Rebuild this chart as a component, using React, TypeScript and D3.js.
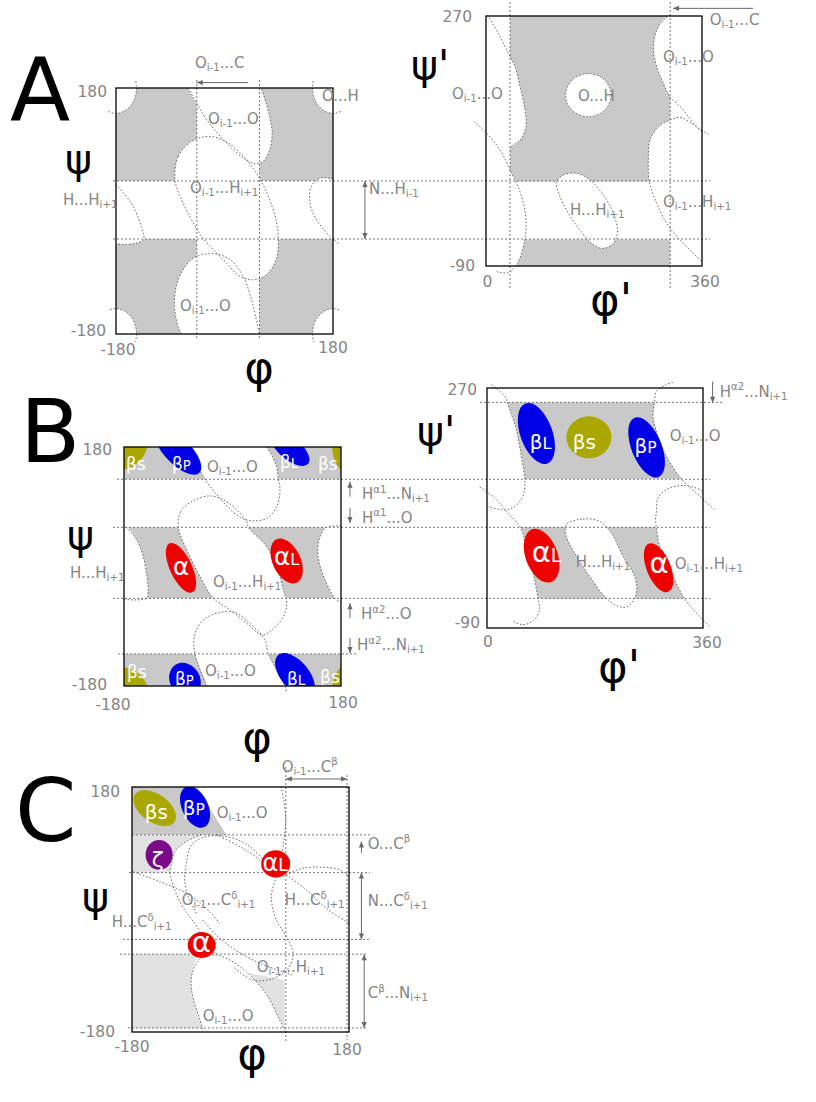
import React from 'react';
import * as d3 from 'd3';

type Pt = number[];
// vertex flag: 1 = sharp corner, 2 = helper vertex outside the frame (filled, not stroked)

// ---------------- panel A, left (phi, psi) ----------------
const a1Bands = [[-180, -46, 44, 180], [58, 180, 44, 180], [-180, -46, -180, -41], [58, 180, -180, -41]];
const a1Ovals = [[-180, 180, 34, 37], [180, 180, 34, 37], [-180, -180, 34, 37], [180, -180, 34, 37]];
const a1Blobs: Pt[][] = [
  // Oi-1...Hi+1
  [[-82.2, 45.8], [-76.6, 80], [-54.5, 101.9], [-24.1, 109.2], [6.3, 99.5], [34, 77.5], [56.1, 50.7], [72.7, 21.4], [85.4, -12.7], [89.3, -42], [86.5, -68.8], [72.7, -90.8], [50.6, -100.5], [25.7, -95.7], [3.6, -76.2], [-18.6, -56.6], [-37.9, -37.1], [-54.5, -12.7], [-71.1, 16.5]],
  // upper Oi-1...O
  [[-64, 200, 2], [-60, 180], [-29.6, 133.6], [3.6, 99.5], [31.2, 77.5], [50.6, 69.2], [64, 72.5], [75, 89.6], [79, 114], [76, 133.6], [69, 158], [61, 180], [60, 200, 2]],
  // lower Oi-1...O
  [[-72, -200, 2], [-72, -180], [-77, -169], [-83, -140], [-80, -110], [-68, -85], [-50, -68], [-18.6, -62.5], [9, -71], [31, -96], [45, -130], [54, -164], [58, -180], [58, -200, 2]],
  // H...Hi+1
  [[-200, 38, 2], [-180, 38.5], [-154.6, 11.4], [-138, -22.8], [-134, -41.3], [-143.5, -46.2], [-163, -49.1], [-180, -48], [-200, -48, 2]],
  // N...Hi-1
  [[200, 48, 2], [180, 47], [158, 48], [144, 36], [141.3, 16.4], [146.8, -3.2], [160.6, -22.8], [180, -41.3], [190, -48], [200, -48, 2]],
];

// ---------------- panel A, right (phi', psi') ----------------
const a2Bands = [[40, 307, 31.5, 270], [40, 307, -90, -51.6]];
const a2Ovals = [[170.5, 156, 37.8, 31]];
const a2Blobs: Pt[][] = [
  [[-20, 290, 2], [2.3, 271.4], [20.6, 245], [40, 211.4], [48.4, 197], [56.7, 168.2], [65, 134.6], [66.7, 110.6], [56.7, 91.4], [40, 81.8], [-20, 80, 2]],
  [[380, 290, 2], [306.7, 272], [287.3, 254.6], [279, 225.8], [284.5, 197], [295.6, 173], [306.7, 153.8], [329, 134.6], [351.2, 110.6], [373.4, 98.6], [380, 95, 2]],
  [[306.7, 120.2], [287.3, 110.6], [273.4, 91.4], [270.6, 62.6], [272.3, 31.4], [284.5, 0.2], [301.2, -28.6], [323.4, -52.6], [345.6, -71.8], [359.5, -83.8], [380, -100, 2], [380, 105, 2], [359.5, 103.4], [342.8, 115.4], [323.4, 124]],
  [[-20, 117.8], [1.2, 101], [23.4, 77], [42.8, 43.4], [59.5, 9.8], [66.7, -23.8], [63.4, -57.4], [52.3, -86.2], [37.3, -99.6], [17.8, -98.2], [-20, -98, 2], [-30, 110, 2]],
  // H...Hi+1
  [[117.8, 31.4], [128.9, 41], [151.2, 43.4], [173.4, 33.8], [195.6, 12.2], [212.3, -14.2], [219, -43], [209.5, -59.8], [192.8, -64.6], [176.2, -57.4], [156.7, -38.2], [137.3, -14.2], [123.4, 9.8]],
];

// ---------------- panel B, left ----------------
const b1Bands = [[-180, 180, 131.4, 180], [-180, 180, -48, 59], [-180, 180, -180, -131.7]];
const b1Blobs: Pt[][] = [
  [[-75, 200, 2], [-73.3, 180], [-45.6, 131.4], [-20.7, 102.7], [6.9, 77.7], [29.1, 69.1], [56.7, 72.6], [73.3, 90.2], [78.8, 115.3], [76, 131.4], [73, 150.4], [65, 168], [56.7, 180], [55, 200, 2]],
  [[-89.8, 59.1], [-86, 82.7], [-64.9, 99.2], [-37.3, 106.3], [-6.9, 96.2], [23.5, 67.6], [26.3, 59.1], [56.7, 29.9], [73.3, -0.2], [84.4, -35.3], [89.9, -55.4], [84.4, -75.5], [62.2, -98.1], [48.4, -103.1], [23.5, -85.5], [-4, -65.4], [-31.8, -47.9], [-53.9, -15.2], [-73.3, 19.9]],
  [[-42, -200, 2], [-42.8, -180], [-62.2, -131.7], [-63.3, -105.6], [-51.1, -83], [-26.2, -70.4], [4.2, -69.4], [34.6, -90.5], [54, -110.6], [59.5, -131.7], [73.3, -155.8], [87.1, -180], [90, -190], [92, -200, 2]],
  [[-200, 62, 2], [-175.6, 59], [-159, 40], [-148, 15], [-142, -15], [-140, -35], [-142, -48], [-148, -49.4], [-164.5, -50.4], [-180, -49], [-200, -49, 2]],
  [[200, 62, 2], [180, 61], [156, 59], [145, 44.5], [142, 15], [153.5, -20], [170, -48], [180, -54], [200, -56, 2]],
];
const b1Spots = [
  { k: 'βs', c: [-190, 190], r: [50, 45], rot: 0 },
  { k: 'βs', c: [185, 185], r: [20, 40], rot: 0 },
  { k: 'βs', c: [-190, -190], r: [50, 39], rot: 0 },
  { k: 'βs', c: [185, -190], r: [20, 39], rot: 0 },
  { k: 'βP', c: [-90, 173], r: [21.6, 45], rot: -45 },
  { k: 'βL', c: [95, 178], r: [18.2, 36.1], rot: -50 },
  { k: 'α', c: [-85.5, -2], r: [18.2, 40.7], rot: -25 },
  { k: 'αL', c: [89.8, 8.3], r: [23.2, 36.1], rot: -25 },
  { k: 'βP', c: [-78.8, -171], r: [24.9, 27.1], rot: -30 },
  { k: 'βL', c: [103.6, -163.4], r: [23.2, 39.2], rot: -40 },
];
const b1SpotText = [['βs', -176.7, 145.4], ['βP', -100.4, 145.4], ['βL', 78.8, 148.4], ['βs', 141.8, 145.4], ['α', -98.7, -12.8], ['αL', 68.8, 2.3], ['βs', -175, -168], ['βP', -95.4, -178.5], ['βL', 90.4, -178.5], ['βs', 145.2, -175.5]];

// ---------------- panel B, right ----------------
const b2Bands = [[0, 360, 133.5, 248.5], [0, 360, -46, 61.5]];
const b2Blobs: Pt[][] = [
  [[-30, 290, 2], [7.2, 275], [29.4, 257.5], [37.8, 237.5], [48.9, 207.5], [57.2, 167.5], [62.8, 133.5], [61.7, 112.5], [51.7, 96.5], [35, 87.5], [16.7, 88.5], [1.7, 92.5], [-30, 95, 2]],
  [[400, 290, 2], [310, 278.5], [298.9, 275], [282.2, 265], [279.5, 248.5], [276.7, 227.5], [285, 197.5], [299, 167.5], [324, 133.5], [348.9, 112.5], [379.5, 87.5], [400, 80, 2]],
  [[-30, 125, 2], [-12.2, 121.5], [12.8, 105], [35, 82.5], [54.4, 62.5], [62, 45], [68.3, 22.5], [79.4, -17.5], [85, -46], [87.8, -62.5], [77.8, -78.5], [60, -85], [40.6, -78.5], [-30, -78, 2]],
  [[282.2, 82.5], [285, 105], [298.9, 117.5], [321.1, 123.5], [343.4, 121.5], [360, 115], [400, 110, 2], [400, -100, 2], [371.1, -87.5], [351.7, -70], [329.5, -46], [304.5, -2.5], [287.8, 32.5], [282, 61.5], [281, 75]],
  [[132.2, 65], [160, 73.5], [187.8, 70], [207.2, 52.5], [226.7, 17.5], [246, -12.5], [248.9, -37.5], [235, -57.5], [218.3, -57.5], [196, -42.5], [171, -12.5], [146, 22.5], [132.2, 47.5]],
];
const b2Spots = [
  { k: 'βL', c: [82.3, 201.8], r: [26.7, 48], rot: -20 },
  { k: 'βs', c: [169.8, 196], r: [37.5, 31.5], rot: 0 },
  { k: 'βP', c: [266, 181], r: [25, 48], rot: -22 },
  { k: 'αL', c: [91, 18.5], r: [26.7, 42], rot: -20 },
  { k: 'α', c: [286, 0.5], r: [20, 39], rot: -22 },
];
const b2SpotText = [['βL', 71.2, 179], ['βs', 142.8, 179], ['βP', 246, 173], ['αL', 74.5, 9.5], ['α', 271, -7]];

// ---------------- panel C ----------------
const cFills = [
  { k: 'dark', pts: [[-180, 180, 1], [-73.2, 180, 1], [-23.4, 109.7, 1], [-180, 109.7, 1]] },
  { k: 'light', pts: [[-180, 109.7, 1], [-65, 109.7, 1], [-89.8, 100], [-109, 85.2], [-114.7, 68], [-117.5, 54.2, 1], [-180, 54.2, 1]] },
  { k: 'light', pts: [[-180, -65.5, 1], [-60, -65.5, 1], [-72, -72], [-79, -88], [-81.5, -108.8], [-77.6, -133.3], [-68.8, -157.8], [-62.2, -175, 1], [-180, -175, 1]] },
  { k: 'light', pts: [[-59.4, -54.8, 1], [-34.5, -65.5, 1], [-67.7, -65.5, 1]] },
  { k: 'light', pts: [[12.5, -93, 1], [73.3, -103.8, 1], [73.3, -175, 1], [65, -162.8], [45.7, -128.4], [26.3, -106.3]] },
];
const cLines: Pt[][] = [
  [[-65, 109.7], [-89.8, 100], [-109, 85.2], [-114.7, 68], [-117.5, 54.2]],
  [[-183.8, 57.2], [-134, 41], [-84.3, 21.4], [-51.1, -3.2], [-34.5, -20.4]],
  [[-117.5, 54.2], [-109.2, 28.7], [-92.6, -0.7], [-76, -20.4], [-62.2, -40]],
  [[-62.2, -15.5], [-40, -37.6], [-12.4, -57.2], [20.8, -74.4], [54, -86.7], [87.2, -96.5]],
  [[-40, 109.7], [-1.3, 92.5], [31.9, 72.9], [54, 53.3]],
  [[76.1, 50.8], [109.3, 28.7], [142.5, 1.7], [180, -20.4]],
  [[70.6, 48.4], [101, 60.2], [136.9, 62.1], [164.6, 58.2], [180, 48.4]],
  [[63.9, 190.75], [71.7, 161.3], [75, 131.8], [72.8, 107.3], [69.5, 85.2]],
  [[59.5, 48.4], [51.2, 18.9], [59.5, -15.5], [76.1, -40], [87.2, -64.6], [78.9, -86.7], [54, -101.4], [20.8, -103.8], [-12.4, -84.2]],
  [[-73.2, -5.6], [-87, 19], [-92.6, 43.5], [-89.8, 68], [-81.5, 95], [-56.6, 107.3], [-17.9, 106.3], [15.3, 92.6], [42.9, 68]],
  [[-62.2, -176.5], [-68.8, -157.8], [-77.6, -133.3], [-82, -108.8], [-77.6, -86.7], [-62.2, -69.5], [-40, -67], [-12.4, -76.8], [9.7, -91.6], [26.3, -106.3], [45.7, -128.4], [63.9, -160.3], [73.3, -177.5]],
];
const cSpots = [
  { k: 'βs', c: [-142.3, 149], r: [40, 20.6], rot: 35 },
  { k: 'βP', c: [-75.4, 150.5], r: [21.6, 32.4], rot: -25 },
  { k: 'ζ', c: [-135, 80.3], r: [22.4, 22], rot: 0 },
  { k: 'αL', c: [58.4, 67], r: [24, 19.9], rot: 0 },
  { k: 'α', c: [-64.4, -52.3], r: [23.2, 19.1], rot: 0 },
];
const cSpotText = [['βs', -158.9, 133.3], ['βP', -95.9, 139.2], ['ζ', -147.3, 63], ['αLs', 36.5, 56], ['α', -81, -62.6]];

// ---------------- text labels (panel, text, phi, psi) ----------------
const labels: [string, string, number, number][] = [
  ['a1', 'O_{i-1}...C', -49, 209.7],
  ['a1', 'O_{i-1}...O', -27.4, 127.8],
  ['a1', 'O...H', 161.7, 161.4],
  ['a1', 'O_{i-1}...H_{i+1}', -57.2, 26],
  ['a1', 'H...H_{i+1}', -268, 8.5],
  ['a1', 'O_{i-1}...O', -73.8, -146],
  ['a1', 'N...H_{i-1}', 239.7, 24.6],
  ['a2', 'O_{i-1}...C', 373, 257],
  ['a2', 'O_{i-1}...O', 295, 203.8],
  ['a2', 'O_{i-1}...O', -56.7, 150.5],
  ['a2', 'O...H', 153.3, 147.6],
  ['a2', 'H...H_{i+1}', 140, -16.6],
  ['a2', 'O_{i-1}...H_{i+1}', 295, -5],
  ['b1', 'O_{i-1}...O', -42.3, 142.3],
  ['b1', 'O_{i-1}...H_{i+1}', -32.4, -30.9],
  ['b1', 'H...H_{i+1}', -269.6, -17.3],
  ['b1', 'O_{i-1}...O', -45.6, -164.9],
  ['b1', 'H^{α1}...N_{i+1}', 214.8, 101.7],
  ['b1', 'H^{α1}...O', 214.8, 66],
  ['b1', 'H^{α2}...O', 213.2, -79],
  ['b1', 'H^{α2}...N_{i+1}', 206.5, -125.8],
  ['b2', 'O_{i-1}...O', 304.5, 191],
  ['b2', 'H...H_{i+1}', 147.8, 2],
  ['b2', 'O_{i-1}...H_{i+1}', 312.8, -1],
  ['b2', 'H^{α2}...N_{i+1}', 387.8, 257],
  ['c', 'O_{i-1}...O', -39.5, 134.8],
  ['c', 'O_{i-1}...C^{δ}_{i+1}', -97.6, 6.8],
  ['c', 'H...C^{δ}_{i+1}', 73.3, 6.8],
  ['c', 'H...C^{δ}_{i+1}', -213.7, -25.6],
  ['c', 'O_{i-1}...H_{i+1}', 26.9, -92],
  ['c', 'O_{i-1}...O', -62.7, -164.2],
  ['c', 'O_{i-1}...C^{β}', 68.3, 202.5],
  ['c', 'O...C^{β}', 211, 89.4],
  ['c', 'N...C^{δ}_{i+1}', 211, 5.4],
  ['c', 'C^{β}...N_{i+1}', 211, -130.1],
];

// arrows (panel, from, to, double-headed)
const arrows: [string, number[], number[], boolean][] = [
  ['a1', [39, 188], [-46, 188], false],
  ['a1', [233, 44], [233, -41], true],
  ['a2', [445, 281], [311.7, 281], false],
  ['b1', [194.9, 105.1], [194.9, 127.7], false],
  ['b1', [194.9, 88.1], [194.9, 65.5], false],
  ['b1', [194.9, -77.6], [194.9, -55.4], false],
  ['b1', [194.9, -107.7], [194.9, -130.3], false],
  ['b2', [376, 279.5], [376, 248], false],
  ['c', [200.6, 83.2], [200.6, 99.9], false],
  ['c', [200.6, 54.2], [200.6, -44], true],
  ['c', [205.2, -65.6], [205.2, -174], true],
  ['c', [75.2, 191.8], [176.8, 191.8], true],
];

// ---------------- layout ----------------
const frames: Record<string, any> = {
  a1: { x0: 116, x1: 333, y0: 88, y1: 334, dx: [-180, 180], dy: [-180, 180], ty: [[-9, 8.5], [-10, 2]], tx: [[2, 21], [0, 19]] },
  a2: { x0: 486, x1: 702, y0: 16, y1: 266, dx: [0, 360], dy: [-90, 270], ty: [[-14, 5.7], [-11, 5]], tx: [[1.5, 20.7], [3, 20.7]] },
  b1: { x0: 124, x1: 341, y0: 447, y1: 686, dx: [-180, 180], dy: [-180, 180], ty: [[-12, 8], [-17, 4]], tx: [[-11, 24], [2, 22]] },
  b2: { x0: 487, x1: 703, y0: 388, y1: 628, dx: [0, 360], dy: [-90, 270], ty: [[-10, 7], [-7, 0]], tx: [[1, 18.7], [4, 20]] },
  c: { x0: 132, x1: 349, y0: 787, y1: 1032, dx: [-180, 180], dy: [-180, 180], ty: [[-12, 9.7], [-17, 4.7]], tx: [[0, 19.7], [-2, 23]] },
};
// dashed guide lines: panel, value, pixel extent
const hGuides: [string, number, number, number][] = [
  ['a1', 44, 113, 710], ['a1', -41, 113, 710],
  ['b1', 131.4, 117, 710], ['b1', 59, 113, 710], ['b1', -48, 113, 710], ['b1', -131.7, 118, 357],
  ['b2', 248.5, 480, 722],
  ['c', 109.7, 132, 370], ['c', 54.2, 129, 370], ['c', -44, 123, 370], ['c', -65.6, 120, 368], ['c', -174, 128, 368],
];
const vGuides: [string, number, number, number][] = [
  ['a1', -46, 80, 338], ['a1', 58, 80, 338], ['a2', 40, 2, 290], ['a2', 307, 2, 290], ['c', 75.2, 767, 1043], ['c', 176.8, 775, 1040],
];
const axisGlyphs = [
  { t: 'ψ', x: 65, y: 173, a: 'start', s: 41 }, { t: 'φ', x: 259, y: 383, a: 'middle', s: 45 },
  { t: "ψ'", x: 411, y: 79, a: 'start', s: 41 }, { t: "φ'", x: 590, y: 315, a: 'start', s: 45 },
  { t: 'ψ', x: 67, y: 549, a: 'start', s: 41 }, { t: 'φ', x: 257, y: 753, a: 'middle', s: 45 },
  { t: "ψ'", x: 417, y: 445, a: 'start', s: 41 }, { t: "φ'", x: 598, y: 682, a: 'start', s: 45 },
  { t: 'ψ', x: 82, y: 911, a: 'start', s: 41 }, { t: 'φ', x: 252, y: 1069, a: 'middle', s: 45 },
];
const bigLetters = [{ t: 'A', x: 10, y: 120 }, { t: 'B', x: 20, y: 462 }, { t: 'C', x: 15, y: 841 }];

const FONT = "'DejaVu Sans', Verdana, sans-serif";
const INK = '#858585';
const DOT = '#5a5a5a';
const FILL: Record<string, string> = { band: '#c9c9c9', dark: '#c9c9c9', light: '#e2e2e2' };
const SPOT: Record<string, string> = { 'βs': '#aaa800', 'βP': '#0000e6', 'βL': '#0000e6', 'α': '#ee0000', 'αL': '#ee0000', 'ζ': '#7a0a8a' };
const GLYPHS: Record<string, [string, number][]> = {
  'βs': [['β', 1], ['s', 1]], 'βP': [['β', 1], ['P', 0.78]], 'βL': [['β', 1], ['L', 0.8]],
  'α': [['α', 1.45]], 'αL': [['α', 1.45], ['L', 0.95]], 'αLs': [['α', 1.2], ['L', 0.85]], 'ζ': [['ζ', 1.1]],
};
const spotSize: Record<string, number> = { b1: 17, b2: 20, c: 20 };

function scalesFor(f: any) {
  return {
    x: d3.scaleLinear().domain(f.dx).range([f.x0, f.x1]),
    y: d3.scaleLinear().domain(f.dy).range([f.y1, f.y0]),
  };
}
const S: Record<string, any> = {};
Object.keys(frames).forEach(k => { S[k] = scalesFor(frames[k]); });

function curvePath(pts: Pt[], sc: any, closed: boolean) {
  const xy: [number, number][] = [];
  pts.forEach(p => {
    const q: [number, number] = [sc.x(p[0]), sc.y(p[1])];
    xy.push(q);
    if (p[2] === 1) xy.push([q[0], q[1]]);
  });
  const line = d3.line().curve(closed ? d3.curveCatmullRomClosed.alpha(0.5) : d3.curveCatmullRom.alpha(0.5));
  return line(xy) || '';
}

function strokeRuns(pts: Pt[]) {
  const start = pts.findIndex(p => p[2] === 2);
  if (start < 0) return null;
  const rot = [...pts.slice(start), ...pts.slice(0, start)];
  const runs: Pt[][] = [];
  let cur: Pt[] = [];
  rot.forEach(p => {
    if (p[2] === 2) { if (cur.length > 1) runs.push(cur); cur = []; } else cur.push(p);
  });
  if (cur.length > 1) runs.push(cur);
  return runs;
}

function parseRich(s: string) {
  const out: { t: string; k: string }[] = [];
  const re = /([_^])\{([^}]*)\}|([^_^]+)/g;
  let m: any;
  while ((m = re.exec(s))) {
    if (m[1]) out.push({ t: m[2], k: m[1] === '_' ? 'sub' : 'sup' });
    else out.push({ t: m[3], k: 'n' });
  }
  return out;
}

function Rich({ x, y, s, size }: any) {
  let shift = 0;
  return (
    <text x={x} y={y} fontSize={size} fill={INK} fontFamily={FONT}>
      {parseRich(s).map((p, i) => {
        const target = p.k === 'sub' ? size * 0.2 : p.k === 'sup' ? -size * 0.42 : 0;
        const dy = target - shift;
        shift = target;
        return <tspan key={i} dy={dy} fontSize={p.k === 'n' ? size : size * 0.68}>{p.t}</tspan>;
      })}
    </text>
  );
}

const dotted = { fill: 'none', stroke: DOT, strokeWidth: 0.9, strokeDasharray: '1.6 1.9' };

function Panel({ id, bands = [], fills = [], blobs = [], ovals = [], lines = [] }: any) {
  const sc = S[id];
  const kx = Math.abs(sc.x(1) - sc.x(0));
  const ky = Math.abs(sc.y(1) - sc.y(0));
  return (
    <g>
      <g clipPath={`url(#clip-${id})`}>
        {bands.map((b: number[], i: number) => (
          <rect key={'b' + i} x={sc.x(b[0])} y={sc.y(b[3])} width={sc.x(b[1]) - sc.x(b[0])} height={sc.y(b[2]) - sc.y(b[3])} fill={FILL.band} />
        ))}
        {fills.map((g: any, i: number) => (
          <path key={'f' + i} d={curvePath(g.pts, sc, true)} fill={FILL[g.k]} />
        ))}
        {blobs.map((pts: Pt[], i: number) => (
          <path key={'w' + i} d={curvePath(pts, sc, true)} fill="#fff" />
        ))}
        {ovals.map((o: number[], i: number) => (
          <ellipse key={'o' + i} cx={sc.x(o[0])} cy={sc.y(o[1])} rx={o[2] * kx} ry={o[3] * ky} fill="#fff" />
        ))}
      </g>
      {blobs.map((pts: Pt[], i: number) => {
        const runs = strokeRuns(pts);
        if (!runs) return <path key={'s' + i} d={curvePath(pts, sc, true)} {...dotted} />;
        return runs.map((r, j) => <path key={'s' + i + '-' + j} d={curvePath(r, sc, false)} {...dotted} />);
      })}
      <g clipPath={`url(#clipw-${id})`}>
        {ovals.map((o: number[], i: number) => (
          <ellipse key={'os' + i} cx={sc.x(o[0])} cy={sc.y(o[1])} rx={o[2] * kx} ry={o[3] * ky} {...dotted} />
        ))}
      </g>
      <g clipPath={`url(#clip-${id})`}>
        {lines.map((pts: Pt[], i: number) => (
          <path key={'l' + i} d={curvePath(pts, sc, false)} {...dotted} />
        ))}
      </g>
    </g>
  );
}

function Spots({ id, spots, spotText }: any) {
  const sc = S[id];
  const kx = Math.abs(sc.x(1) - sc.x(0));
  const ky = Math.abs(sc.y(1) - sc.y(0));
  const base = spotSize[id];
  return (
    <g clipPath={`url(#clip-${id})`}>
      {spots.map((s: any, i: number) => {
        const cx = sc.x(s.c[0]);
        const cy = sc.y(s.c[1]);
        return <ellipse key={i} cx={cx} cy={cy} rx={s.r[0] * kx} ry={s.r[1] * ky} fill={SPOT[s.k]} transform={`rotate(${s.rot} ${cx} ${cy})`} />;
      })}
      {spotText.map((t: any, i: number) => (
        <text key={'t' + i} x={sc.x(t[1])} y={sc.y(t[2])} fill="#fff" fontFamily={FONT} fontSize={base}>
          {GLYPHS[t[0]].map((g, j) => <tspan key={j} fontSize={base * g[1]}>{g[0]}</tspan>)}
        </text>
      ))}
    </g>
  );
}

function Arrow({ id, from, to, both }: any) {
  const sc = S[id];
  const x1 = sc.x(from[0]), y1 = sc.y(from[1]), x2 = sc.x(to[0]), y2 = sc.y(to[1]);
  const head = (ax: number, ay: number, bx: number, by: number, k: string) => {
    const a = Math.atan2(by - ay, bx - ax);
    const L = 6, W = 2.6;
    const p = [
      [bx, by],
      [bx - L * Math.cos(a) + W * Math.sin(a), by - L * Math.sin(a) - W * Math.cos(a)],
      [bx - L * Math.cos(a) - W * Math.sin(a), by - L * Math.sin(a) + W * Math.cos(a)],
    ];
    return <path key={k} d={`M${p[0]}L${p[1]}L${p[2]}Z`} fill="#6a6a6a" />;
  };
  return (
    <g>
      <line x1={x1} y1={y1} x2={x2} y2={y2} stroke="#6a6a6a" strokeWidth={1} />
      {head(x1, y1, x2, y2, 'e')}
      {both ? head(x2, y2, x1, y1, 's') : null}
    </g>
  );
}

export default function App() {
  const ids = Object.keys(frames);
  return (
    <svg width={816} height={1102} style={{ position: 'absolute', left: 0, top: 0, background: '#fff' }}>
      <defs>
        {ids.map(k => {
          const f = frames[k];
          return (
            <React.Fragment key={k}>
              <clipPath id={`clip-${k}`}><rect x={f.x0} y={f.y0} width={f.x1 - f.x0} height={f.y1 - f.y0} /></clipPath>
              <clipPath id={`clipw-${k}`}><rect x={f.x0 - 8} y={f.y0 - 8} width={f.x1 - f.x0 + 16} height={f.y1 - f.y0 + 16} /></clipPath>
            </React.Fragment>
          );
        })}
      </defs>
      <rect width={816} height={1102} fill="#fff" />

      <Panel id="a1" bands={a1Bands} blobs={a1Blobs} ovals={a1Ovals} />
      <Panel id="a2" bands={a2Bands} blobs={a2Blobs} ovals={a2Ovals} />
      <Panel id="b1" bands={b1Bands} blobs={b1Blobs} />
      <Panel id="b2" bands={b2Bands} blobs={b2Blobs} />
      <Panel id="c" fills={cFills} lines={cLines} />

      {hGuides.map((g, i) => {
        const y = S[g[0]].y(g[1]);
        return <line key={'h' + i} x1={g[2]} x2={g[3]} y1={y} y2={y} stroke="#6a6a6a" strokeWidth={0.9} strokeDasharray="2 2" />;
      })}
      {vGuides.map((g, i) => {
        const x = S[g[0]].x(g[1]);
        return <line key={'v' + i} x1={x} x2={x} y1={g[2]} y2={g[3]} stroke="#6a6a6a" strokeWidth={0.9} strokeDasharray="2 2" />;
      })}

      <Spots id="b1" spots={b1Spots} spotText={b1SpotText} />
      <Spots id="b2" spots={b2Spots} spotText={b2SpotText} />
      <Spots id="c" spots={cSpots} spotText={cSpotText} />

      {ids.map(k => {
        const f = frames[k];
        return <rect key={'box' + k} x={f.x0} y={f.y0} width={f.x1 - f.x0} height={f.y1 - f.y0} fill="none" stroke="#000" strokeWidth={1.3} />;
      })}

      {arrows.map((a, i) => <Arrow key={'a' + i} id={a[0]} from={a[1]} to={a[2]} both={a[3]} />)}

      {labels.map((l, i) => (
        <Rich key={'lab' + i} x={S[l[0]].x(l[2])} y={S[l[0]].y(l[3])} s={l[1]} size={15} />
      ))}

      {ids.map(k => {
        const f = frames[k];
        const sc = S[k];
        const yv = [f.dy[1], f.dy[0]];
        const xv = [f.dx[0], f.dx[1]];
        return (
          <g key={'tk' + k} fontFamily={FONT} fontSize={15.5} fill={INK}>
            {yv.map((v, i) => (
              <text key={'y' + i} x={f.x0 + f.ty[i][0]} y={sc.y(v) + f.ty[i][1]} textAnchor="end">{String(v)}</text>
            ))}
            {xv.map((v, i) => (
              <text key={'x' + i} x={sc.x(v) + f.tx[i][0]} y={f.y1 + f.tx[i][1]} textAnchor="middle">{String(v)}</text>
            ))}
          </g>
        );
      })}

      {axisGlyphs.map((g, i) => (
        <text key={'g' + i} x={g.x} y={g.y} textAnchor={g.a} fontFamily={FONT} fontSize={g.s} fill="#000">{g.t}</text>
      ))}
      {bigLetters.map((g, i) => (
        <text key={'L' + i} x={g.x} y={g.y} fontFamily={FONT} fontSize={88} fill="#000">{g.t}</text>
      ))}
    </svg>
  );
}
